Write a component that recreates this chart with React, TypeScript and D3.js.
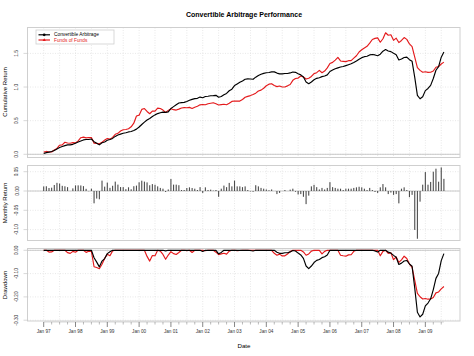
import React from "react";
import * as d3 from "d3";

const W = 474;
const H = 356;

const seriesNames = ["Convertible Arbitrage", "Funds of Funds"];
const seriesColors = ["#000000", "#e41a1c"];

// monthly returns, Jan 1997 .. Aug 2009
const convArb = [
  0.0119, 0.0123, 0.0078, 0.0086, 0.0156, 0.0212, 0.0193, 0.0134, 0.0122, 0.0100, 0.0000, 0.0068,
  0.0145, 0.0146, 0.0144, 0.0126, 0.0056, -0.0006, 0.0060, -0.0319, -0.0196, -0.0214, 0.0269, 0.0113,
  0.0219, 0.0082, 0.0136, 0.0243, 0.0166, 0.0102, 0.0101, 0.0048, 0.0096, 0.0045, 0.0124, 0.0140,
  0.0227, 0.0267, 0.0243, 0.0223, 0.0149, 0.0179, 0.0162, 0.0120, 0.0080, 0.0060, -0.0026, 0.0040,
  0.0311, 0.0165, 0.0165, 0.0150, 0.0026, 0.0026, 0.0078, 0.0095, 0.0078, 0.0060, 0.0026, 0.0100,
  -0.0050, 0.0095, 0.0026, 0.0035, 0.0010, 0.0026, -0.0150, 0.0060, 0.0140, 0.0100, 0.0210, 0.0120,
  0.0270, 0.0120, 0.0120, 0.0100, 0.0120, 0.0026, -0.0010, -0.0020, 0.0150, 0.0120, 0.0080, 0.0060,
  0.0040, 0.0020, 0.0040, 0.0000, -0.0080, -0.0050, 0.0000, 0.0026, 0.0000, 0.0035, 0.0060, -0.0020,
  -0.0090, -0.0080, -0.0150, -0.0340, -0.0120, 0.0120, 0.0160, 0.0100, 0.0040, 0.0080, 0.0040, 0.0080,
  0.0230, 0.0100, 0.0080, 0.0060, 0.0060, 0.0026, 0.0060, 0.0060, 0.0060, 0.0080, 0.0095, 0.0110,
  0.0095, 0.0060, 0.0026, 0.0080, 0.0026, -0.0026, -0.0050, 0.0095, 0.0180, 0.0095, -0.0080, -0.0040,
  -0.0100, -0.0080, -0.0320, 0.0060, 0.0095, 0.0026, -0.0160, -0.0100, -0.1008, -0.1237, -0.0276, 0.0164,
  0.0491, 0.0164, 0.0235, 0.0500, 0.0578, 0.0241, 0.0611, 0.0315,
];

const fundsOfFunds = [
  0.0317, 0.0106, -0.0077, 0.0009, 0.0275, 0.0225, 0.0435, 0.0051, 0.0334, -0.0099, -0.0034, 0.0089,
  -0.0036, 0.0256, 0.0392, 0.0064, -0.0089, 0.0049, -0.0007, -0.0662, -0.0034, -0.0055, 0.0203, 0.0270,
  0.0185, -0.0066, 0.0215, 0.0366, 0.0111, 0.0267, 0.0134, 0.0029, 0.0077, 0.0214, 0.0381, 0.0728,
  0.0082, 0.0541, 0.0079, -0.0262, -0.0207, 0.0249, -0.0009, 0.0282, -0.0035, -0.0143, -0.0213, 0.0190,
  0.0146, -0.0082, -0.0036, 0.0085, 0.0096, 0.0034, -0.0011, 0.0035, -0.0092, 0.0112, 0.0078, 0.0124,
  0.0029, -0.0019, 0.0089, 0.0038, 0.0041, -0.0081, -0.0104, 0.0031, 0.0028, -0.0037, 0.0128, 0.0149,
  0.0039, -0.0011, 0.0003, 0.0130, 0.0179, 0.0078, 0.0061, 0.0088, 0.0104, 0.0167, 0.0069, 0.0144,
  0.0188, 0.0112, 0.0036, -0.0130, -0.0082, 0.0048, -0.0079, 0.0004, 0.0083, 0.0102, 0.0301, 0.0132,
  0.0029, 0.0146, -0.0070, -0.0143, 0.0056, 0.0124, 0.0196, 0.0065, 0.0156, -0.0157, 0.0114, 0.0209,
  0.0286, 0.0070, 0.0144, 0.0163, -0.0214, -0.0021, -0.0018, 0.0057, 0.0006, 0.0151, 0.0145, 0.0227,
  0.0131, 0.0106, 0.0097, 0.0178, 0.0205, 0.0062, 0.0027, -0.0237, 0.0195, 0.0329, -0.0131, 0.0025,
  -0.0300, 0.0120, -0.0240, 0.0120, 0.0160, -0.0100, -0.0250, -0.0150, -0.0600, -0.0640, -0.0180, -0.0120,
  0.0030, -0.0040, 0.0010, 0.0080, 0.0250, 0.0050, 0.0160, 0.0120,
];

const xTickLabels = ["Jan 97", "Jan 98", "Jan 99", "Jan 00", "Jan 01", "Jan 02", "Jan 03", "Jan 04", "Jan 05", "Jan 06", "Jan 07", "Jan 08", "Jan 09"];
const cumTicks = [0, 0.5, 1.0, 1.5];
const retTicks = [0.05, 0, -0.05, -0.1];
const ddTicks = [0, -0.1, -0.2, -0.3];

const FONT = "'Liberation Sans', Arial, Helvetica, sans-serif";

function cumulative(r: number[]) {
  let w = 1;
  return r.map((v) => {
    w *= 1 + v;
    return w - 1;
  });
}
function drawdown(r: number[]) {
  let w = 1;
  let peak = 1;
  return r.map((v) => {
    w *= 1 + v;
    peak = Math.max(peak, w);
    return w / peak - 1;
  });
}

export default function App() {
  const n = convArb.length;
  const x = d3.scaleLinear().domain([0, n - 1]).range([43.7, 443.9]);
  const left = 27.5;
  const right = 460;

  const panels = {
    top: { y0: 27.5, y1: 157.5 },
    mid: { y0: 165.5, y1: 240.5 },
    bot: { y0: 248.5, y1: 321 },
  };

  const yCum = d3.scaleLinear().domain([0, 1.5]).range([154.3, 53.4]);
  const yRet = d3.scaleLinear().domain([0, -0.1]).range([191.0, 229.6]);
  const yDD = d3.scaleLinear().domain([0, -0.3]).range([250.3, 320.2]);

  const all = [convArb, fundsOfFunds];
  const cums = all.map(cumulative);
  const dds = all.map(drawdown);

  const lineCum = d3.line<number>().x((_, i) => x(i)).y((d) => yCum(d));
  const lineDD = d3.line<number>().x((_, i) => x(i)).y((d) => yDD(d));

  const gridX = d3.range(0, n, 6);
  const majorIdx = d3.range(0, n, 12);
  const minorIdx = d3.range(0, n, 3).filter((i) => i % 12 !== 0);

  const gridColor = "#d9d9d9";
  const boxColor = "#cfcfcf";

  const renderPanel = (p: { y0: number; y1: number }, yTicks: number[], ys: d3.ScaleLinear<number, number>, zeroY: number) => (
    <g>
      {gridX.map((i) => (
        <line key={"gx" + i} x1={x(i)} x2={x(i)} y1={p.y0} y2={p.y1} stroke={gridColor} strokeWidth={0.6} strokeDasharray="1,1.5" />
      ))}
      {yTicks.map((t) => (
        <line key={"gy" + t} x1={left} x2={right} y1={ys(t)} y2={ys(t)} stroke={gridColor} strokeWidth={0.6} strokeDasharray="1,1.5" />
      ))}
      <line x1={left} x2={right} y1={zeroY} y2={zeroY} stroke="#bdbdbd" strokeWidth={0.8} />
      <rect x={left} y={p.y0} width={right - left} height={p.y1 - p.y0} fill="none" stroke={boxColor} strokeWidth={1} />
      {yTicks.map((t) => (
        <g key={"yt" + t}>
          <line x1={left - 4} x2={left} y1={ys(t)} y2={ys(t)} stroke="#bdbdbd" strokeWidth={0.6} />
          <text
            x={17}
            y={ys(t)}
            transform={`rotate(-90, 17, ${ys(t)})`}
            textAnchor="middle"
            dominantBaseline="central"
            fontSize={4.8}
            fill="#333"
            fontFamily={FONT}
          >
            {t === 0 ? (yTicks === cumTicks ? "0.0" : "0.00") : yTicks === cumTicks ? t.toFixed(1) : t.toFixed(2)}
          </text>
        </g>
      ))}
    </g>
  );

  return (
    <svg width={W} height={H} style={{ position: "absolute", left: 0, top: 0, background: "#fff" }} xmlns="http://www.w3.org/2000/svg">
      <rect x={0} y={0} width={W} height={H} fill="#fff" />
      <text x={244} y={17} textAnchor="middle" fontSize={7} fontWeight="bold" fontFamily={FONT} fill="#000">
        Convertible Arbitrage Performance
      </text>

      {renderPanel(panels.top, cumTicks, yCum, yCum(0))}
      {renderPanel(panels.mid, retTicks, yRet, yRet(0))}
      {renderPanel(panels.bot, ddTicks, yDD, yDD(0))}

      {/* cumulative lines */}
      {[1, 0].map((s) => (
        <path key={"c" + s} d={lineCum(cums[s]) || ""} fill="none" stroke={seriesColors[s]} strokeWidth={1.15} strokeLinejoin="round" />
      ))}

      {/* monthly return bars */}
      {convArb.map((v, i) => (
        <rect
          key={"b" + i}
          x={x(i) - 0.55}
          y={Math.min(yRet(v), yRet(0))}
          width={1.1}
          height={Math.abs(yRet(v) - yRet(0))}
          fill="#4d4d4d"
        />
      ))}

      {/* drawdown lines */}
      {[1, 0].map((s) => (
        <path key={"d" + s} d={lineDD(dds[s]) || ""} fill="none" stroke={seriesColors[s]} strokeWidth={1.15} strokeLinejoin="round" />
      ))}

      {/* legend */}
      <rect x={36} y={30} width={78} height={14} fill="#fff" stroke={boxColor} strokeWidth={0.8} />
      {seriesNames.map((name, k) => {
        const yy = 34.8 + k * 5.2;
        return (
          <g key={name}>
            <line x1={38.5} x2={50} y1={yy} y2={yy} stroke={seriesColors[k]} strokeWidth={1.2} />
            {k === 0 ? (
              <circle cx={44.2} cy={yy} r={1.4} fill={seriesColors[k]} />
            ) : (
              <path d={`M44.2,${yy - 1.7} L45.9,${yy + 1.1} L42.5,${yy + 1.1} Z`} fill={seriesColors[k]} />
            )}
            <text x={54} y={yy} dominantBaseline="central" fontSize={4.8} fontFamily={FONT} fill={seriesColors[k]}>
              {name}
            </text>
          </g>
        );
      })}

      {/* x axis */}
      <line x1={x(0)} x2={x(n - 1)} y1={322} y2={322} stroke="#bdbdbd" strokeWidth={0.6} />
      {majorIdx.map((i, k) => (
        <g key={"xt" + i}>
          <line x1={x(i)} x2={x(i)} y1={322} y2={327} stroke="#555" strokeWidth={0.7} />
          <text x={x(i)} y={331.5} textAnchor="middle" dominantBaseline="central" fontSize={4.7} fontFamily={FONT} fill="#333">
            {xTickLabels[k]}
          </text>
        </g>
      ))}
      {minorIdx.map((i) => (
        <line key={"xm" + i} x1={x(i)} x2={x(i)} y1={322} y2={324.5} stroke="#777" strokeWidth={0.5} />
      ))}

      {/* axis titles */}
      <text x={244} y={345.5} textAnchor="middle" dominantBaseline="central" fontSize={6.2} fontFamily={FONT} fill="#000">
        Date
      </text>
      <text x={4.5} y={92} transform="rotate(-90, 4.5, 92)" textAnchor="middle" dominantBaseline="central" fontSize={6} fontFamily={FONT} fill="#000">
        Cumulative Return
      </text>
      <text x={4.5} y={203} transform="rotate(-90, 4.5, 203)" textAnchor="middle" dominantBaseline="central" fontSize={6} fontFamily={FONT} fill="#000">
        Monthly Return
      </text>
      <text x={4.5} y={285} transform="rotate(-90, 4.5, 285)" textAnchor="middle" dominantBaseline="central" fontSize={6} fontFamily={FONT} fill="#000">
        Drawdown
      </text>
    </svg>
  );
}
